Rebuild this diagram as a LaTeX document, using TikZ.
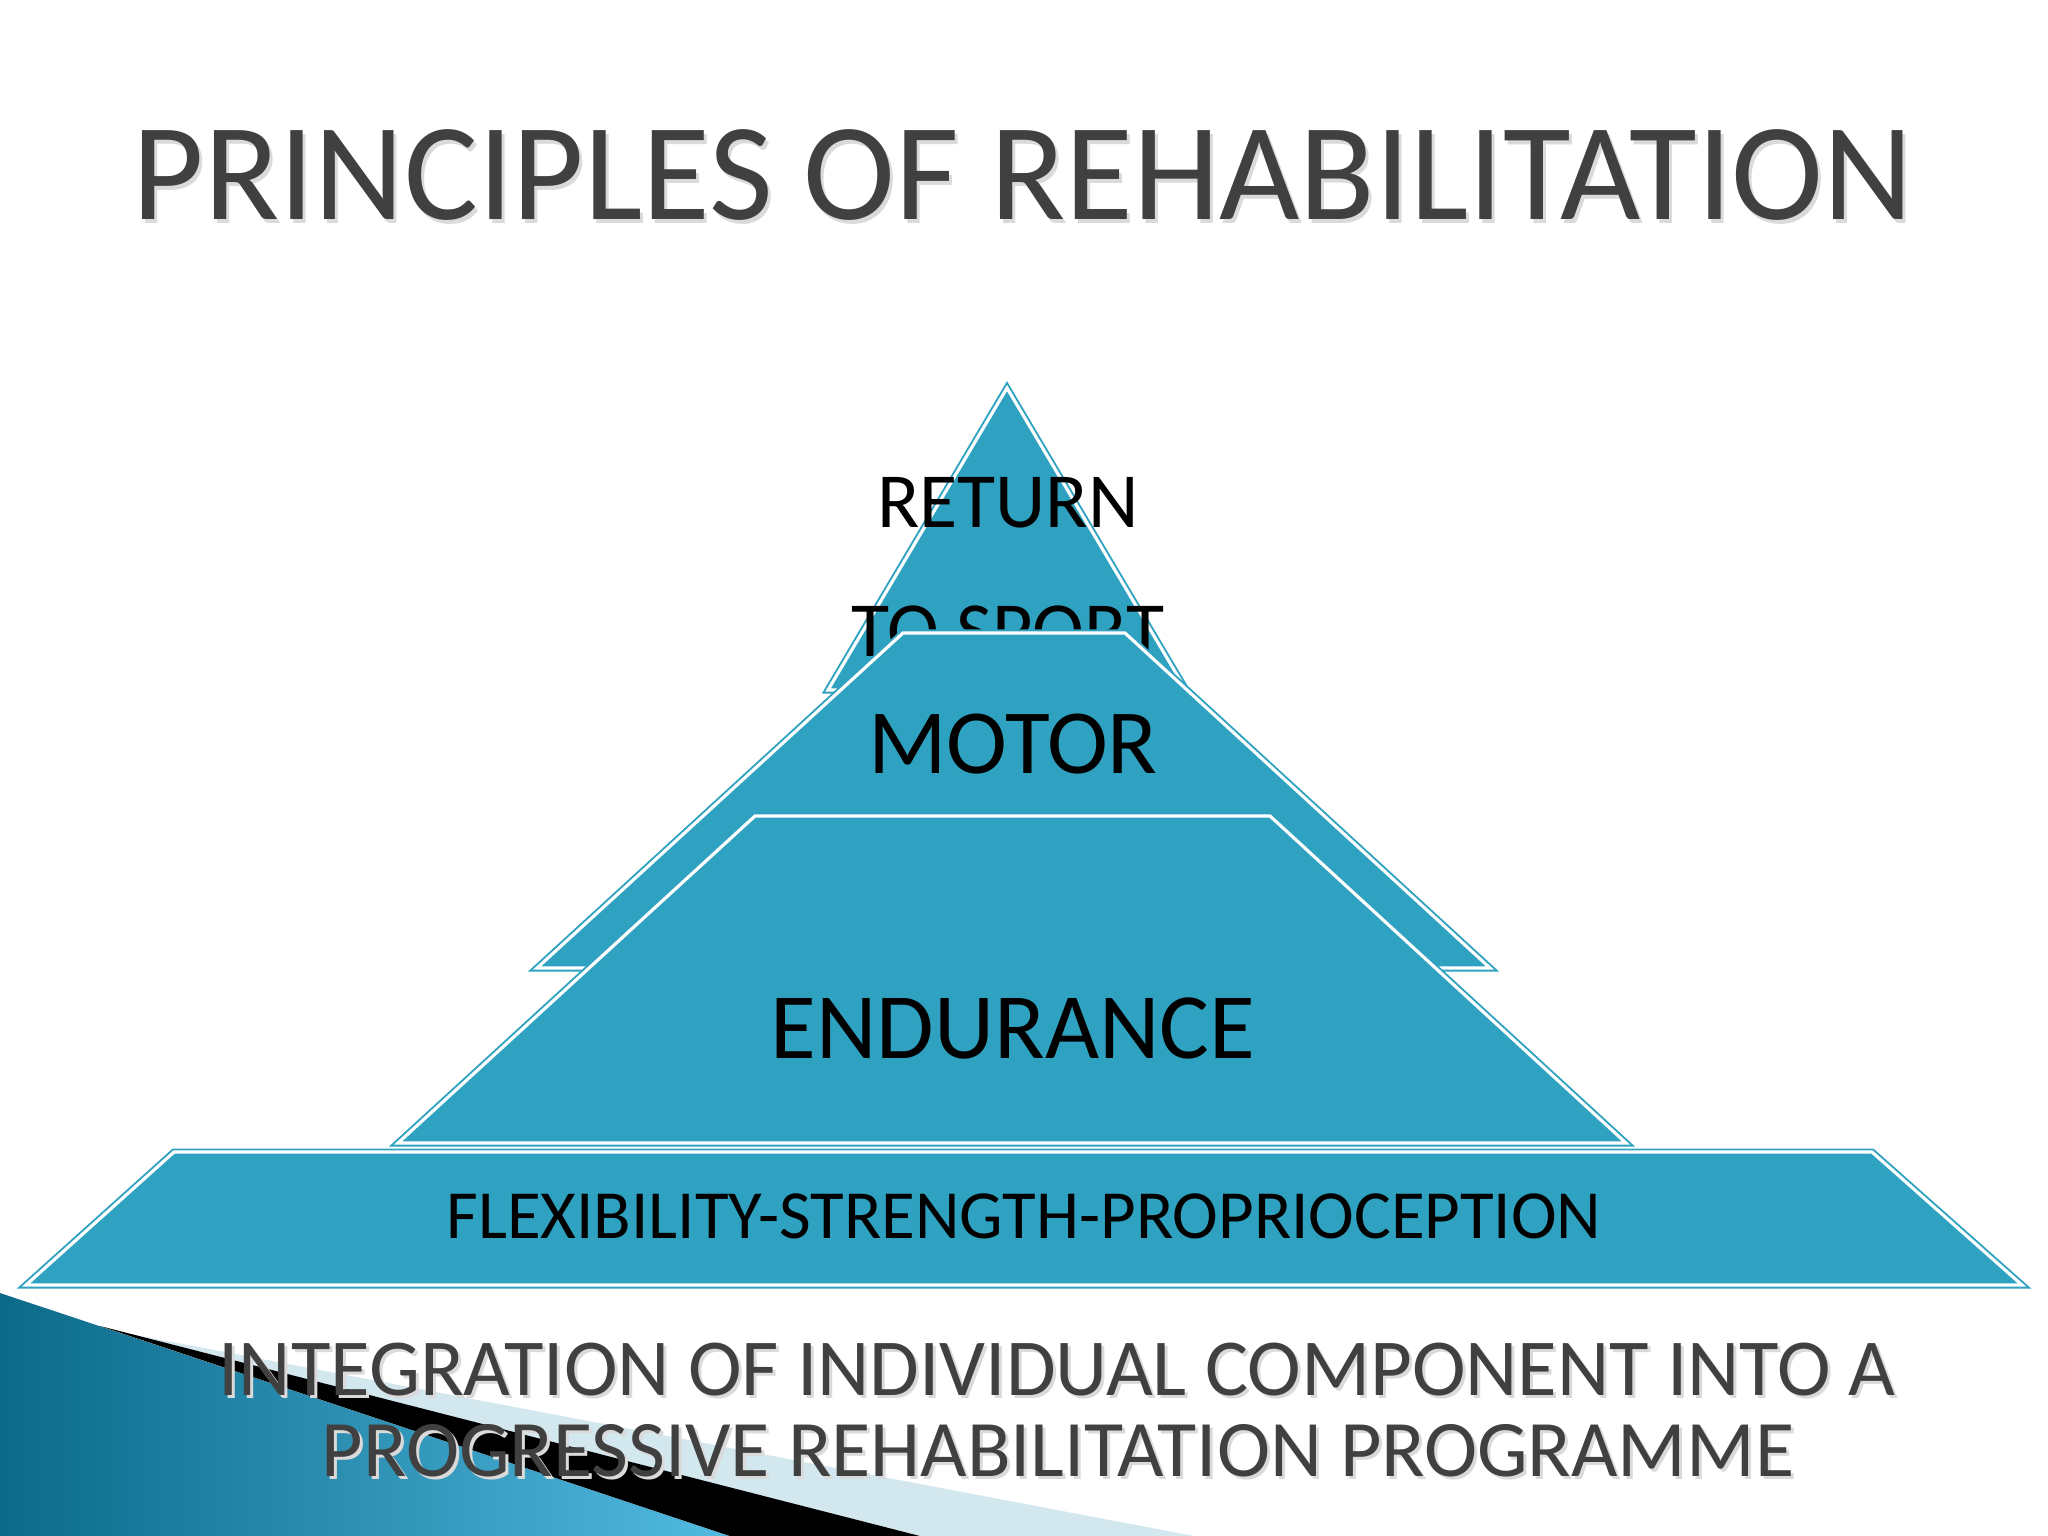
\documentclass[tikz,border=0pt]{standalone}
\usepackage{fontspec}
\setmainfont{Carlito}
\usetikzlibrary{positioning,calc}
\definecolor{Teal}{HTML}{2EA2C0}
\definecolor{Ink}{HTML}{404040}
\definecolor{InkS}{HTML}{DADADA}
\definecolor{DeepB}{HTML}{0B6A8A}
\definecolor{SkyB}{HTML}{52BAE0}
\definecolor{Mist}{HTML}{D3E7EF}

\begin{document}
\begin{tikzpicture}[x=0.01cm,y=-0.01cm,
    tier/.style={fill=Teal,draw=Teal,double=white,double distance=0.9pt,line width=0.55pt},
    lbl/.style={anchor=base,text=black,inner sep=0pt},
    head/.style={anchor=base,text=Ink,inner sep=0pt}]
  \useasboundingbox[fill=white] (0,0) rectangle (2048,1536);
  % swoosh, bottom left corner
  \shade[left color=DeepB,right color=SkyB] (0,1293) -- (730,1536) -- (0,1536) -- cycle;
  \fill[Mist] (130,1334) -- (1194,1536) -- (920,1536) -- cycle;
  \fill[black] (100,1326) -- (920,1536) -- (730,1536) -- cycle;
  % title
  \node[head,text=InkS,font=\fontsize{39.4}{47}\selectfont] (titleshd) at (1026,223) {PRINCIPLES OF REHABILITATION};
  \node[head,font=\fontsize{39.4}{47}\selectfont] (title) at (1023,219) {PRINCIPLES OF REHABILITATION};
  % pyramid, top to bottom
  \draw[tier] (1007,388) -- (1186,690) -- (828,690) -- cycle;
  \node[lbl,font=\fontsize{22.2}{27}\selectfont] (ret) at (1008,527) {RETURN};
  \node[lbl,font=\fontsize{22.2}{27}\selectfont] (sport) at (1008,656) {TO SPORT};
  \draw[tier] (903,633) -- (1125,633) -- (1490,968) -- (537,968) -- cycle;
  \node[lbl,font=\fontsize{26.1}{31}\selectfont] (motor) at (1013,773) {MOTOR};
  \draw[tier] (755,816) -- (1270,816) -- (1626,1143) -- (398,1143) -- cycle;
  \node[lbl,font=\fontsize{26.6}{32}\selectfont] (endur) at (1013,1058) {ENDURANCE};
  \draw[tier] (174,1152) -- (1872,1152) -- (2022,1285) -- (26,1285) -- cycle;
  \node[lbl,font=\fontsize{19.6}{24}\selectfont] (flex) at (1024,1238) {FLEXIBILITY-STRENGTH-PROPRIOCEPTION};
  % bottom caption
  \node[head,text=InkS,font=\fontsize{23}{28}\selectfont] (integshd) at (1060,1398) {INTEGRATION OF INDIVIDUAL COMPONENT INTO A};
  \node[head,font=\fontsize{23}{28}\selectfont] (integ) at (1057,1395) {INTEGRATION OF INDIVIDUAL COMPONENT INTO A};
  \node[head,text=InkS,font=\fontsize{22.8}{28}\selectfont] (progshd) at (1061,1479) {PROGRESSIVE REHABILITATION PROGRAMME};
  \node[head,font=\fontsize{22.8}{28}\selectfont] (prog) at (1058,1476) {PROGRESSIVE REHABILITATION PROGRAMME};
\end{tikzpicture}
\end{document}
